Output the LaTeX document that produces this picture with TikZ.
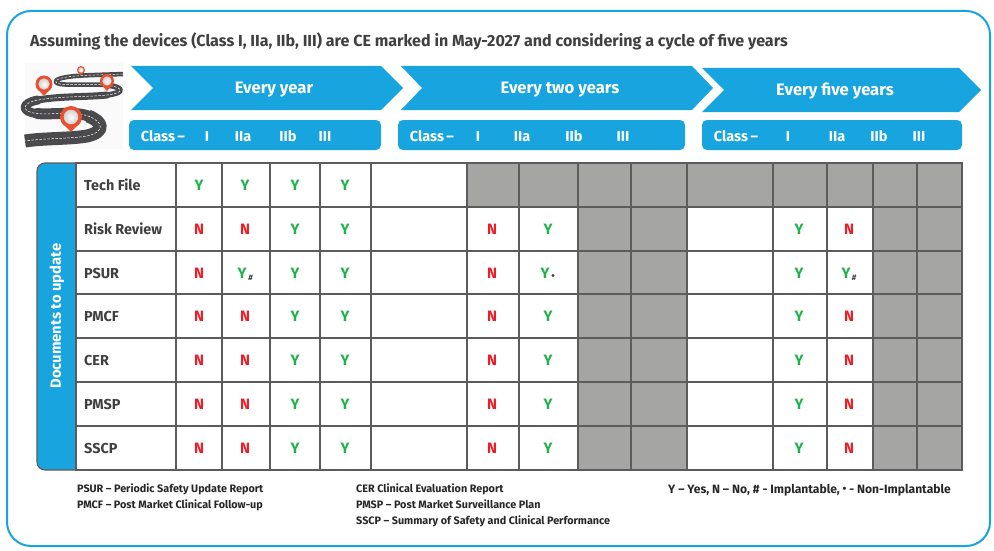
\documentclass[tikz,border=0pt]{standalone}
\usepackage{fontspec}
\setmainfont{Fira Sans}
\definecolor{brandblue}{HTML}{17A4DF}
\definecolor{gridgray}{HTML}{5C5C5E}
\definecolor{cellgray}{HTML}{A5A5A4}
\definecolor{labelgray}{HTML}{404042}
\definecolor{yesgreen}{HTML}{1FB24B}
\definecolor{nored}{HTML}{EE1C25}
\definecolor{roadgray}{HTML}{4A4A4C}
\definecolor{pinred}{HTML}{E8502F}
\newcommand{\yn}[1]{\ifnum\pdfstrcmp{#1}{cy}=0 Y\else N\fi}
\tikzset{
  x=1pt,y=-1pt,
  frameline/.style={draw=brandblue,line width=2pt,rounded corners=24pt},
  banner/.style={fill=brandblue,draw=none},
  bartext/.style={font=\bfseries\fontsize{16.6}{18}\selectfont,text=white,anchor=base,inner sep=0pt},
  classbar/.style={fill=brandblue,rounded corners=5pt},
  classtext/.style={font=\bfseries\fontsize{14.5}{16}\selectfont,text=white,anchor=base,inner sep=0pt},
  gridline/.style={draw=gridgray,line width=1.1pt},
  rowlabel/.style={font=\bfseries\fontsize{14.4}{16}\selectfont,text=labelgray,anchor=base west,inner sep=0pt},
  cy/.style={font=\bfseries\fontsize{15}{16}\selectfont,text=yesgreen,anchor=base,inner sep=0pt},
  cn/.style={font=\bfseries\fontsize{15}{16}\selectfont,text=nored,anchor=base,inner sep=0pt},
  foot/.style={font=\bfseries\fontsize{10.8}{12}\selectfont,text=black!85,anchor=base west,inner sep=0pt},
  road/.style={draw=roadgray,line cap=round,line join=round},
  lane/.style={draw=white,line width=0.5pt,dash pattern=on 2.5pt off 1.5pt},
  pinhead/.style={fill=pinred},
  pincore/.style={inner color=white,outer color=black!18},
}
\begin{document}
\begin{tikzpicture}
\useasboundingbox (0,0) rectangle (994,551);
\fill[white] (0,0) rectangle (994,551);
\draw[frameline] (7,11) rectangle (990,546);
\node[font=\bfseries\fontsize{16.05}{18}\selectfont,text=labelgray,anchor=base west,inner sep=0pt] (title) at (30,46.7) {Assuming the devices (Class I, IIa, IIb, III) are CE marked in May-2027 and considering a cycle of five years};

% road picture
\fill[black!2] (25,63) rectangle (123,149);
\draw[road,line width=4.5pt,line cap=butt] (123,74) .. controls (100,75) and (80,75) .. (67,77) .. controls (53,79) and (52,84) .. (65,84.5) .. controls (80,85) and (100,84) .. (110,85.5);
\draw[road,line width=5.5pt] (110,85.5) .. controls (124,88) and (124,93) .. (107,95);
\draw[road,line width=7pt] (107,95) .. controls (90,97) and (60,96) .. (38,100);
\draw[road,line width=9pt] (38,100) .. controls (21,103) and (21,112) .. (37,113.5);
\draw[road,line width=11pt] (37,113.5) .. controls (50,115) and (75,111) .. (88,116);
\draw[road,line width=13pt,line cap=butt] (88,116) .. controls (104,122) and (105,132) .. (87,136) .. controls (70,139) and (45,138) .. (25,141);
\draw[lane] (123,74) .. controls (100,75) and (80,75) .. (67,77) .. controls (53,79) and (52,84) .. (65,84.5) .. controls (80,85) and (100,84) .. (110,85.5) .. controls (124,88) and (124,93) .. (107,95) .. controls (90,97) and (60,96) .. (38,100) .. controls (21,103) and (21,112) .. (37,113.5) .. controls (50,115) and (75,111) .. (88,116) .. controls (104,122) and (105,132) .. (87,136) .. controls (70,139) and (45,138) .. (25,141);
\foreach \px/\py/\pr/\pt in {81/70/4/75,44/84/8.5/96,107/81/7/91,71/117/11/132}{
  \fill[pinhead] (\px-\pr*0.92,\py+\pr*0.4) -- (\px,\pt) -- (\px+\pr*0.92,\py+\pr*0.4) -- cycle;
  \fill[pinhead] (\px,\py) circle (\pr);
  \shade[pincore] (\px,\py) circle (\pr*0.66);
}

% banners
\fill[banner] (131,66) -- (381,66) -- (403,88) -- (381,110) -- (131,110) -- (153,88) -- cycle;
\fill[banner] (401,66) -- (692,66) -- (713,88) -- (692,110) -- (401,110) -- (422,88) -- cycle;
\fill[banner] (702,68) -- (959,68) -- (981,90) -- (959,112) -- (702,112) -- (724,90) -- cycle;
\node[bartext] (b1) at (274,93) {Every year};
\node[bartext] (b2) at (560,93) {Every two years};
\node[bartext] (b3) at (835,95.7) {Every five years};

% class bars
\fill[classbar] (129,120) rectangle (381,150);
\fill[classbar] (398,120) rectangle (685,150);
\fill[classbar] (702,120) rectangle (962,150);
\foreach \n/\a/\b/\c/\d/\e in {1/163/207/243/288/325,2/432/478/522/574/623,3/736/788/837/879/919}{
  \node[classtext] (cl\n) at (\a,141) {Class\,–};
  \node[classtext] (cI\n) at (\b,141) {I};
  \node[classtext] (cIIa\n) at (\c,141) {IIa};
  \node[classtext] (cIIb\n) at (\d,141) {IIb};
  \node[classtext] (cIII\n) at (\e,141) {III};
}

% table grid
\foreach \ya/\yb/\r in {163/207/0,207/251/1,251/294/2,294/338/3,338/382/4,382/426/5,426/470/6}{
  \foreach \xa/\xb/\k in {76/176/0,176/222/1,222/270/2,270/320/3,320/371/4,371/467/5,467/519/6,519/578/7,578/631/8,631/687/9,687/773/10,773/827/11,827/873/12,873/917/13,917/962/14}{
    \pgfmathtruncatemacro{\isgray}{(\r==0 && \k>=6) || \k==8 || \k==9 || \k==13 || \k==14 ? 1 : 0}
    \ifnum\isgray=1
      \filldraw[gridline,fill=cellgray] (\xa,\ya) rectangle (\xb,\yb);
    \else
      \draw[gridline] (\xa,\ya) rectangle (\xb,\yb);
    \fi
  }
}
% side label
\filldraw[gridline,fill=brandblue,rounded corners=8pt] (76,163) -- (37,163) -- (37,470) -- (76,470);
\draw[gridline] (76,163) -- (76,470);
\node[font=\bfseries\fontsize{14.8}{16}\selectfont,text=white,rotate=90,inner sep=0pt] (side) at (57,316) {Documents to update};

% row labels
\foreach \n/\t/\y in {a/Tech File/190,b/Risk Review/234,c/PSUR/278,d/PMCF/321,e/CER/365,f/PMSP/409,g/SSCP/453}{
  \node[rowlabel] (row\n) at (84,\y) {\t};
}
% cell values
\node[cy] (ta) at (199,190) {Y};
\node[cy] (tb) at (245,190) {Y};
\node[cy] (tc) at (295,190) {Y};
\node[cy] (td) at (345,190) {Y};
\foreach \y in {234,321,365,409,453}{
  \foreach \x/\v in {199/cn,245/cn,295/cy,345/cy,492/cn,548/cy,799/cy,849/cn}{
    \node[\v] (v\x-\y) at (\x,\y) {\yn{\v}};
  }
}
\foreach \x/\v in {199/cn,242/cy,295/cy,345/cy,492/cn,545/cy,799/cy,846/cy}{
  \node[\v] (v\x-278) at (\x,278.5) {\yn{\v}};
}
\node[font=\itshape\bfseries\fontsize{8}{9}\selectfont,text=labelgray,inner sep=0pt] (h1) at (250.5,278) {\#};
\node[font=\itshape\bfseries\fontsize{8}{9}\selectfont,text=labelgray,inner sep=0pt] (h2) at (854,278) {\#};
\fill[labelgray] (553,275.5) circle (1.6);

% footnotes
\node[foot] (f1) at (77,492) {PSUR – Periodic Safety Update Report};
\node[foot] (f2) at (77,508) {PMCF – Post Market Clinical Follow-up};
\node[foot] (f3) at (356,492) {CER Clinical Evaluation Report};
\node[foot] (f4) at (356,508) {PMSP – Post Market Surveillance Plan};
\node[foot] (f5) at (356,524) {SSCP – Summary of Safety and Clinical Performance};
\node[foot,font=\bfseries\fontsize{12.1}{13}\selectfont] (f6) at (668,493) {Y – Yes, N – No, \# - Implantable, \raisebox{0.5pt}{\scalebox{0.9}{•}} - Non-Implantable};
\end{tikzpicture}
\end{document}
